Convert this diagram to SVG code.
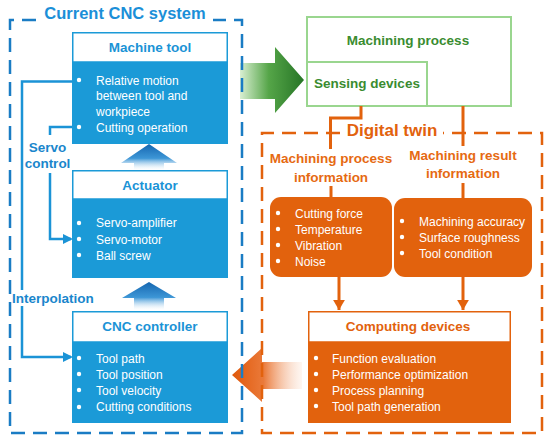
<svg xmlns="http://www.w3.org/2000/svg" width="550" height="441" viewBox="0 0 550 441">
<style>
text{font-family:"Liberation Sans",Arial,sans-serif}
.hb{font-weight:bold;font-size:13.5px;text-anchor:middle}
.bl{fill:#1b93d6}
.or{fill:#e2620d}
.gr{fill:#3a8c30}
.it{fill:#fff;font-size:12px}
.bul{fill:#fff}
.lb{font-weight:bold;font-size:13.5px;fill:#1a86cc}
.bline{fill:none;stroke:#1b93d6;stroke-width:2.5}
.oline{fill:none;stroke:#e2620d;stroke-width:3}
.bdash{fill:none;stroke:#1a7cc4;stroke-width:2.5;stroke-dasharray:14 8}
.odash{fill:none;stroke:#e2620d;stroke-width:2.5;stroke-dasharray:14 8}
</style>
<defs>
<linearGradient id="gG" x1="240" y1="0" x2="304" y2="0" gradientUnits="userSpaceOnUse">
<stop offset="0" stop-color="#d9efd2"/>
<stop offset="0.45" stop-color="#55a548"/>
<stop offset="1" stop-color="#267526"/>
</linearGradient>
<linearGradient id="gO" x1="232" y1="0" x2="302" y2="0" gradientUnits="userSpaceOnUse">
<stop offset="0" stop-color="#e0580a"/>
<stop offset="0.45" stop-color="#ea7a3a"/>
<stop offset="1" stop-color="#fbe2d2" stop-opacity="0.3"/>
</linearGradient>
<linearGradient id="gB" x1="0" y1="0" x2="0" y2="1">
<stop offset="0" stop-color="#1566b0"/>
<stop offset="0.55" stop-color="#3d96d6"/>
<stop offset="1" stop-color="#ffffff" stop-opacity="0.2"/>
</linearGradient>
<marker id="ab" markerWidth="4" markerHeight="4" refX="3.2" refY="2" orient="auto" markerUnits="strokeWidth"><path d="M0,0 L4,2 L0,4 Z" fill="#1b93d6"/></marker>
<marker id="ao" markerWidth="4" markerHeight="4" refX="3.4" refY="2" orient="auto" markerUnits="strokeWidth"><path d="M0,0 L3.4,2 L0,4 Z" fill="#e2620d"/></marker>
</defs>
<rect width="550" height="441" fill="#fff"/>

<!-- big arrows -->
<g id="big-arrows">
<polygon points="240,63 275,63 275,47 304,80 275,113 275,99 240,99" fill="url(#gG)"/>
<polygon points="232,375 262,348 262,362 302,362 302,389 262,389 262,402" fill="url(#gO)"/>
<polygon points="149,144 177,163 164,163 164,170 134,170 134,163 121,163" fill="url(#gB)"/>
<polygon points="149,282 176,298 164,298 164,310 134,310 134,298 122,298" fill="url(#gB)"/>
</g>

<!-- containers -->
<g id="current-cnc-system">
<path class="bdash" d="M36,20 H10 V433 H242 V20 H213"/>
<text x="125" y="18.5" text-anchor="middle" font-weight="bold" font-size="16.5" fill="#1b8fd8">Current CNC system</text>
</g>
<g id="digital-twin">
<path class="odash" d="M340,133 H262 V433 H542 V133 H443"/>
<text x="392" y="136" text-anchor="middle" font-weight="bold" font-size="17" fill="#e2620d">Digital twin</text>
</g>

<g id="machine-tool">
<rect x="72" y="32" width="156" height="112" fill="#1b9ad7"/>
<rect x="72.75" y="32.75" width="154.5" height="29.25" fill="#fff" stroke="#1b9ad7" stroke-width="1.5"/>
<text class="hb bl" x="150" y="52">Machine tool</text>
<circle class="bul" cx="79" cy="80" r="2.2"/>
<circle class="bul" cx="79" cy="127" r="2.2"/>
<text class="it" x="96" y="84.5">Relative motion</text>
<text class="it" x="96" y="100">between tool and</text>
<text class="it" x="96" y="115.5">workpiece</text>
<text class="it" x="96" y="131.5">Cutting operation</text>
</g>

<g id="actuator">
<rect x="72" y="170" width="156" height="108" fill="#1b9ad7"/>
<rect x="72.75" y="170.75" width="154.5" height="28.25" fill="#fff" stroke="#1b9ad7" stroke-width="1.5"/>
<text class="hb bl" x="150" y="190">Actuator</text>
<circle class="bul" cx="79" cy="223" r="2.2"/>
<circle class="bul" cx="79" cy="239" r="2.2"/>
<circle class="bul" cx="79" cy="255" r="2.2"/>
<text class="it" x="96" y="227">Servo-amplifier</text>
<text class="it" x="96" y="243.5">Servo-motor</text>
<text class="it" x="96" y="259.5">Ball screw</text>
</g>

<g id="cnc-controller">
<rect x="72" y="311" width="156" height="112" fill="#1b9ad7"/>
<rect x="72.75" y="311.75" width="154.5" height="30.25" fill="#fff" stroke="#1b9ad7" stroke-width="1.5"/>
<text class="hb bl" x="150" y="331">CNC controller</text>
<circle class="bul" cx="79" cy="358" r="2.2"/>
<circle class="bul" cx="79" cy="374" r="2.2"/>
<circle class="bul" cx="79" cy="390" r="2.2"/>
<circle class="bul" cx="79" cy="407" r="2.2"/>
<text class="it" x="96" y="362.5">Tool path</text>
<text class="it" x="96" y="378.5">Tool position</text>
<text class="it" x="96" y="394.5">Tool velocity</text>
<text class="it" x="96" y="411">Cutting conditions</text>
</g>

<g id="machining-process">
<rect x="307" y="17" width="204" height="89" fill="#fff" stroke="#9ad68f" stroke-width="2"/>
<text class="hb gr" x="408" y="45">Machining process</text>
</g>
<g id="sensing-devices">
<rect x="307" y="62" width="120" height="44" fill="#fff" stroke="#9ad68f" stroke-width="2"/>
<text class="hb gr" x="367" y="88">Sensing devices</text>
</g>

<g id="process-info">
<text class="hb" fill="#e66a12" x="331" y="163">Machining process</text>
<text class="hb" fill="#e66a12" x="331" y="182">information</text>
<rect x="270" y="197" width="122" height="80" rx="11" fill="#e2620d"/>
<circle class="bul" cx="278" cy="213" r="2.2"/>
<circle class="bul" cx="278" cy="229" r="2.2"/>
<circle class="bul" cx="278" cy="245" r="2.2"/>
<circle class="bul" cx="278" cy="261" r="2.2"/>
<text class="it" x="295" y="217.5">Cutting force</text>
<text class="it" x="295" y="233.5">Temperature</text>
<text class="it" x="295" y="249.5">Vibration</text>
<text class="it" x="295" y="265.5">Noise</text>
</g>

<g id="result-info">
<text class="hb" fill="#e66a12" x="463" y="160">Machining result</text>
<text class="hb" fill="#e66a12" x="463" y="178">information</text>
<rect x="394" y="198" width="138" height="79" rx="11" fill="#e2620d"/>
<circle class="bul" cx="402" cy="221" r="2.2"/>
<circle class="bul" cx="402" cy="237" r="2.2"/>
<circle class="bul" cx="402" cy="253" r="2.2"/>
<text class="it" x="419" y="225.5">Machining accuracy</text>
<text class="it" x="419" y="241.5">Surface roughness</text>
<text class="it" x="419" y="257.5">Tool condition</text>
</g>

<g id="computing-devices">
<rect x="308" y="311" width="203" height="112" fill="#e2620d"/>
<rect x="308.75" y="311.75" width="201.5" height="30.25" fill="#fff" stroke="#e2620d" stroke-width="1.5"/>
<text class="hb or" x="408" y="331">Computing devices</text>
<circle class="bul" cx="316" cy="358" r="2.2"/>
<circle class="bul" cx="316" cy="374" r="2.2"/>
<circle class="bul" cx="316" cy="390" r="2.2"/>
<circle class="bul" cx="316" cy="406" r="2.2"/>
<text class="it" x="332" y="362.5">Function evaluation</text>
<text class="it" x="332" y="378.5">Performance optimization</text>
<text class="it" x="332" y="394.5">Process planning</text>
<text class="it" x="332" y="410.5">Tool path generation</text>
</g>

<g id="labels">
<text class="lb" x="47.5" y="152" text-anchor="middle">Servo</text>
<text class="lb" x="47.5" y="168" text-anchor="middle">control</text>
<text class="lb" x="12" y="303">Interpolation</text>
</g>

<g id="connectors">
<path class="bline" d="M72,81.5 H22 V290"/>
<path class="bline" d="M22,306 V357 H71" marker-end="url(#ab)"/>
<path class="bline" d="M72,127 H50 V135"/>
<path class="bline" d="M50,173 V239 H71" marker-end="url(#ab)"/>
<path class="oline" d="M361,106 V118 H330.5 V149"/>
<path class="oline" d="M463,106 V146"/>
<path class="oline" d="M331,186 V197"/>
<path class="oline" d="M463,183 V198"/>
<path class="oline" d="M339,277 V310" marker-end="url(#ao)"/>
<path class="oline" d="M463,277 V310" marker-end="url(#ao)"/>
</g>
</svg>
